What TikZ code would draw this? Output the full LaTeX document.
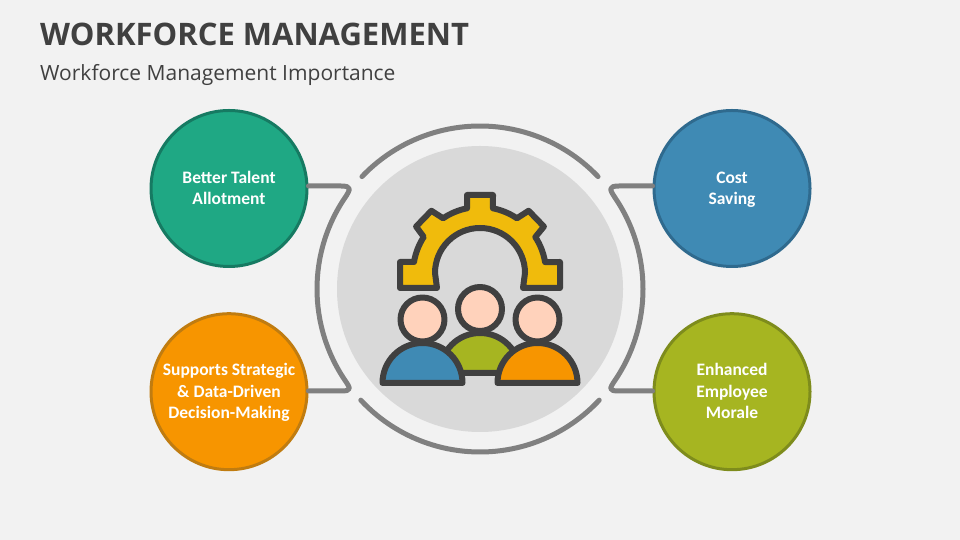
\documentclass[tikz,border=0pt]{standalone}
\usepackage{fontspec}
\setmainfont{Open Sans}
\newfontfamily\circfont{Carlito}
\definecolor{bgc}{HTML}{F2F2F2}
\definecolor{discc}{HTML}{D9D9D9}
\definecolor{ringc}{HTML}{808080}
\definecolor{inkc}{HTML}{404040}
\definecolor{tealc}{HTML}{1FA884}
\definecolor{teald}{HTML}{167A62}
\definecolor{bluec}{HTML}{3F8AB4}
\definecolor{blued}{HTML}{2F6A8E}
\definecolor{orangec}{HTML}{F79500}
\definecolor{oranged}{HTML}{C07C10}
\definecolor{greenc}{HTML}{A6B521}
\definecolor{greend}{HTML}{7E8C1C}
\definecolor{goldc}{HTML}{F0BB0C}
\definecolor{skinc}{HTML}{FFD2BB}
\tikzset{
  x=1pt,y=1pt,
  topic/.style={circle,draw=#1,line width=3pt,minimum size=156pt,inner sep=0pt,align=center,text=white,
    font=\circfont\fontsize{17.5}{21.5}\selectfont\bfseries},
  ringline/.style={draw=ringc,line width=5pt,line cap=round,line join=round},
  icon/.style={draw=inkc,line width=6pt,line join=round,line cap=round},
  title/.style={anchor=base west,inner sep=0pt,text=inkc},
}
\begin{document}
\begin{tikzpicture}
\fill[bgc] (0,0) rectangle (960,540);
\useasboundingbox (0,0) rectangle (960,540);
\node[title,font=\fontsize{31}{36}\selectfont\bfseries] (ttl) at (40,494.3) {WORKFORCE MANAGEMENT};
\node[title,font=\fontsize{21}{24}\selectfont] (sub) at (40,459.3) {Workforce Management Importance};
\coordinate (ctr) at (480,251);
\node[circle,fill=discc,minimum size=286pt,inner sep=0pt] (disc) at (ctr) {};
% topic circles
\node[topic=teald,fill=tealc] (tl) at (229,351.5) {\rule{0pt}{17.5pt}Better Talent\\\rule[-6pt]{0pt}{6pt}Allotment};
\node[topic=blued,fill=bluec] (tr) at (732,351.5) {\rule{0pt}{17.5pt}Cost\\\rule[-6pt]{0pt}{6pt}Saving};
\node[topic=oranged,fill=orangec] (bl) at (229,148.3) {\rule{0pt}{17.5pt}Supports Strategic\\\& Data-Driven\\\rule[-6pt]{0pt}{6pt}Decision-Making};
\node[topic=greend,fill=greenc] (br) at (732,148.3) {\rule{0pt}{17.5pt}Enhanced\\Employee\\\rule[-6pt]{0pt}{6pt}Morale};
% ring
\begin{scope}[shift={(ctr)}]
\draw[ringline] (136.4:163) arc[start angle=136.4,end angle=43.6,radius=163];
\draw[ringline] (223:163) arc[start angle=223,end angle=317,radius=163];
\coordinate (c1) at (-139,103);
\coordinate (c2) at (-139,-102);
\coordinate (c3) at (139,103);
\coordinate (c4) at (139,-102);
\draw[ringline] (tl.east|-c1) -- (c1) .. controls (-128,103) and (-129.5,99.4) .. (146:163)
  arc[start angle=146,end angle=214,radius=163]
  .. controls (-129.5,-99.4) and (-128,-102) .. (c2) -- (bl.east|-c2);
\draw[ringline] (tr.west|-c3) -- (c3) .. controls (128,103) and (129.5,99.4) .. (34:163)
  arc[start angle=34,end angle=-34,radius=163]
  .. controls (129.5,-99.4) and (128,-102) .. (c4) -- (br.west|-c4);
\end{scope}
% gear
\begin{scope}[shift={(480,267)}]
\filldraw[icon,fill=goldc] (-43,-15) -- (-80,-15) -- (-80,11) -- (-66,11)
 arc[start angle=170.5,end angle=147,radius=66] -- (144:79) -- (128:79) -- (124:66)
 arc[start angle=124,end angle=101.3,radius=66] -- (-13,78) -- (13,78) -- (78.7:66)
 arc[start angle=78.7,end angle=56,radius=66] -- (52:79) -- (36:79) -- (33:66)
 arc[start angle=33,end angle=9.5,radius=66] -- (80,11) -- (80,-15) -- (43,-15) -- (45,0)
 arc[start angle=0,end angle=180,radius=45] -- cycle;
\end{scope}
% middle person
\filldraw[icon,fill=greenc] (440,167) arc[start angle=180,end angle=0,radius=40] -- cycle;
\filldraw[icon,fill=skinc] (480,231) circle[radius=22];
% left person
\filldraw[icon,fill=bluec] (382.5,157) arc[start angle=180,end angle=0,radius=40] -- cycle;
\filldraw[icon,fill=skinc] (422.5,220.5) circle[radius=22];
% right person
\filldraw[icon,fill=orangec] (497.5,157) arc[start angle=180,end angle=0,radius=40] -- cycle;
\filldraw[icon,fill=skinc] (537.5,220.5) circle[radius=22];
\end{tikzpicture}
\end{document}
